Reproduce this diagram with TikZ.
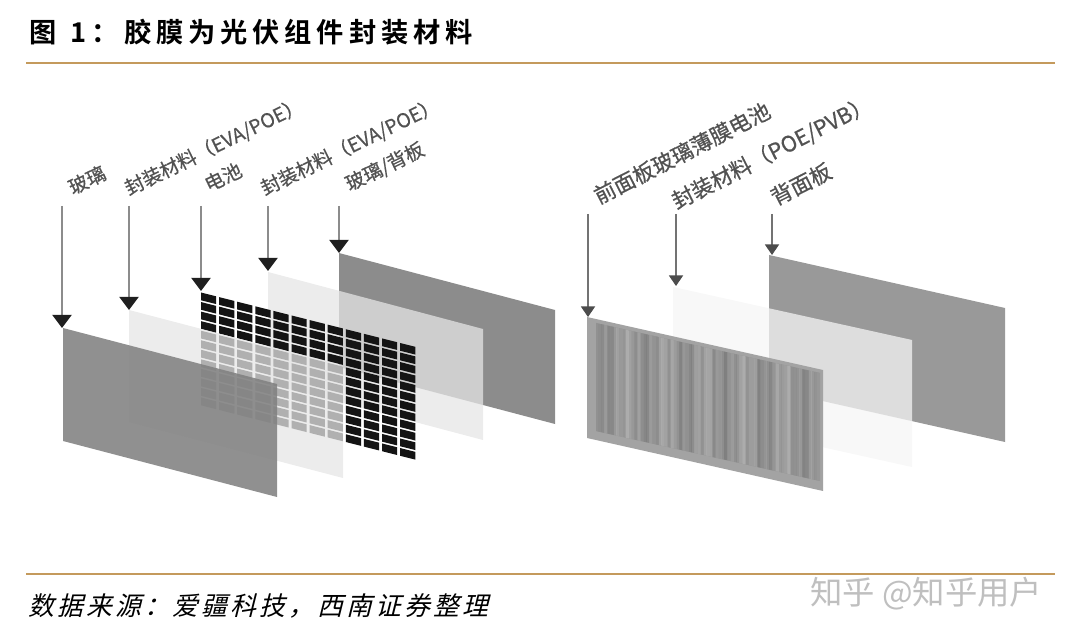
\documentclass[tikz,border=0pt]{standalone}
\usepackage{fontspec}
\usetikzlibrary{arrows.meta}
\setmainfont{Noto Sans CJK SC}
\newfontfamily\titlefont[LetterSpace=18,BoldFont={Noto Sans CJK SC Bold}]{Noto Sans CJK SC}
\newfontfamily\srcfont[FakeSlant=0.25,LetterSpace=12]{Noto Sans CJK SC}
\newfontfamily\lblfont[FakeBold=0.6]{Noto Sans CJK SC}
\newfontfamily\wmfont{Noto Sans CJK SC}
\definecolor{rulecol}{HTML}{C49A5C}
\tikzset{
  x=0.02cm,y=-0.02cm,
  arrowline/.style={draw=#1,line width=1pt,-{Triangle[width=11pt,length=7.5pt,color=black!88]}},
  arrowthin/.style={draw=#1,line width=.8pt,-{Triangle[width=8pt,length=6pt,color=black!70]}},
  label/.style={rotate=26,font=\lblfont\fontsize{11pt}{12pt}\selectfont,text=black!68,inner sep=0pt},
  labelr/.style={rotate=27,font=\lblfont\fontsize{12.3pt}{13pt}\selectfont,text=black!68,inner sep=0pt},
  rulel/.style={draw=rulecol,line width=1.4pt},
  film/.style={fill=#1,fill opacity=.75,draw=none},
  cell/.style={fill=black!92,draw=none}
}
\begin{document}
\begin{tikzpicture}
\useasboundingbox (0,0) rectangle (1068,638);
% header and footer
\node[anchor=west,inner sep=0pt] (title) at (29,32) {\titlefont\fontsize{15.5pt}{17pt}\selectfont\bfseries 图\hspace{8pt}1：\hspace{3pt}胶膜为光伏组件封装材料};
\coordinate (r1a) at (26,63); \coordinate (r1b) at (1055,63);
\draw[rulel] (r1a) -- (r1b);
\coordinate (r2a) at (26,574); \coordinate (r2b) at (1055,574);
\draw[rulel] (r2a) -- (r2b);
\node[anchor=west,inner sep=0pt] (src) at (28,606) {\srcfont\fontsize{14.7pt}{17pt}\selectfont 数据来源：爱疆科技，西南证券整理};
\node[anchor=west,inner sep=0pt,text=black!25] (wm) at (810,594) {\wmfont\fontsize{18.4pt}{20pt}\selectfont 知乎 @知乎用户};

% ---- left stack ----
\fill[black!45] (339,253) -- (555,310) -- (555,424) -- (339,367) -- cycle;
\fill[film=black!10] (268,272) -- (483,329) -- (483,440) -- (268,383) -- cycle;
\foreach \c in {0,...,11}{
  \foreach \r in {0,...,11}{
    \pgfmathsetmacro{\xa}{201+18.1*\c}
    \pgfmathsetmacro{\ya}{292.5+.2535*18.1*\c+9.55*\r}
    \fill[cell] (\xa,\ya) -- ({\xa+15.2},{\ya+3.85}) -- ({\xa+15.2},{\ya+11.6}) -- (\xa,{\ya+7.75}) -- cycle;
  }
}
\fill[film=black!10] (129,310) -- (343,366) -- (343,478) -- (129,422) -- cycle;
\fill[fill=black!50,fill opacity=.87] (63,328) -- (277,384) -- (277,497) -- (63,441) -- cycle;

\coordinate (a1s) at (62,206);  \coordinate (a1e) at (62,328);
\coordinate (a2s) at (129,206); \coordinate (a2e) at (129,310);
\coordinate (a3s) at (201,206); \coordinate (a3e) at (201,291);
\coordinate (a4s) at (268,206); \coordinate (a4e) at (268,271);
\coordinate (a5s) at (339,206); \coordinate (a5e) at (339,253);
\draw[arrowline=black!45] (a1s) -- (a1e);
\draw[arrowline=black!45] (a2s) -- (a2e);
\draw[arrowline=black!45] (a3s) -- (a3e);
\draw[arrowline=black!45] (a4s) -- (a4e);
\draw[arrowline=black!45] (a5s) -- (a5e);

\node[label] (l1) at (87,180) {玻璃};
\node[label] (l2) at (214,147) {封装材料（EVA/POE）};
\node[label] (l3) at (223,177) {电池};
\node[label] (l4) at (350,147) {封装材料（EVA/POE）};
\node[label] (l5) at (385,167) {玻璃/背板};

% ---- right stack ----
\fill[black!40] (769,255) -- (1005,308) -- (1005,442) -- (769,389) -- cycle;
\fill[fill=black!4,fill opacity=.75] (673,287) -- (912,340) -- (912,467) -- (673,414) -- cycle;
\fill[black!36] (587,317) -- (823,370) -- (823,491) -- (587,438) -- cycle;
\begin{scope}
  \clip (596,323) -- (820,373) -- (820,481) -- (596,431) -- cycle;
  \fill[black!42] (590,310) rectangle (825,490);
  \foreach \i in {0,...,149}{
    \pgfmathsetmacro{\sh}{41+4*sin(\i*47.3)+4*sin(\i*13.7)+2*cos(\i*97)}
    \fill[black!\sh] ({596+1.5*\i},310) rectangle ({597.6+1.5*\i},490);
  }
\end{scope}

\coordinate (b1s) at (588,214); \coordinate (b1e) at (588,317);
\coordinate (b2s) at (676,214); \coordinate (b2e) at (676,286);
\coordinate (b3s) at (772,214); \coordinate (b3e) at (772,255);
\draw[arrowthin=black!55] (b1s) -- (b1e);
\draw[arrowthin=black!55] (b2s) -- (b2e);
\draw[arrowthin=black!55] (b3s) -- (b3e);

\node[labelr] (r1) at (682,153) {前面板玻璃薄膜电池};
\node[labelr] (r2) at (772,153) {封装材料（POE/PVB）};
\node[labelr] (r3) at (801,184) {背面板};
\end{tikzpicture}
\end{document}
